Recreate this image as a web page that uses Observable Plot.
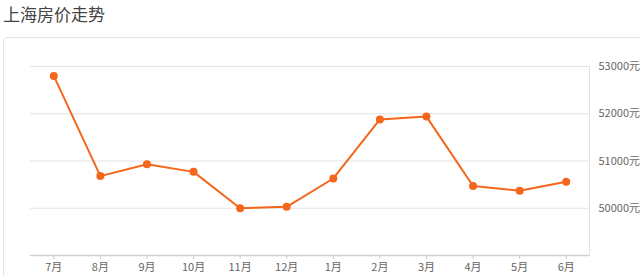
<!DOCTYPE html>
<html><head><meta charset="utf-8">
<script src="https://cdn.jsdelivr.net/npm/d3@7"></script>
<script src="https://cdn.jsdelivr.net/npm/@observablehq/plot@0.6"></script>
<style>
html,body{margin:0;padding:0;background:#fff;width:640px;height:276px;overflow:hidden;font-family:"Noto Sans CJK SC","Noto Sans",sans-serif;}
#title{height:37px;box-sizing:border-box;padding:2px 0 0 3px;font-size:17px;color:#444;line-height:24px;}
#card{margin-left:3px;border-top:1px solid #e3e3e3;border-left:1px solid #e3e3e3;border-top-left-radius:5px;width:660px;height:260px;}
#card svg{display:block;}
</style></head><body>
<div id="title">上海房价走势</div>
<div id="card"></div>
<script>
const months = ["7月","8月","9月","10月","11月","12月","1月","2月","3月","4月","5月","6月"];
const prices = [52800, 50680, 50930, 50770, 50000, 50030, 50630, 51880, 51940, 50470, 50370, 50560];
const yTicks = [50000, 51000, 52000, 53000];
const data = months.map((m, i) => ({month: m, price: prices[i]}));
const chart = Plot.plot({
  width: 636, height: 239,
  marginLeft: 26, marginRight: 51, marginTop: 28, marginBottom: 22,
  style: {fontFamily: '"Noto Sans CJK SC","Noto Sans",sans-serif', fontSize: "11px", color: "#666", background: "transparent"},
  x: {type: "point", domain: months, padding: 0.5, round: false, label: null},
  y: {domain: [49000, 53000], label: null},
  marks: [
    Plot.gridY(yTicks, {stroke: "#e3e3e3", strokeOpacity: 1}),
    Plot.frame({anchor: "right", stroke: "#e3e3e3"}),
    Plot.axisY(yTicks, {anchor: "right", tickSize: 0, tickPadding: 9, tickFormat: d => d + "元", fill: "#666", textAnchor: "start"}),
    Plot.axisX({tickSize: 4, tickPadding: 4, stroke: "#ccc", fill: "#666"}),
    Plot.ruleY([49000], {stroke: "#d0d0d0", strokeWidth: 1.5}),
    Plot.line(data, {x: "month", y: "price", stroke: "#f4661b", strokeWidth: 2}),
    Plot.dot(data, {x: "month", y: "price", fill: "#f4661b", r: 4})
  ]
});
document.getElementById("card").appendChild(chart);
</script>
</body></html>
